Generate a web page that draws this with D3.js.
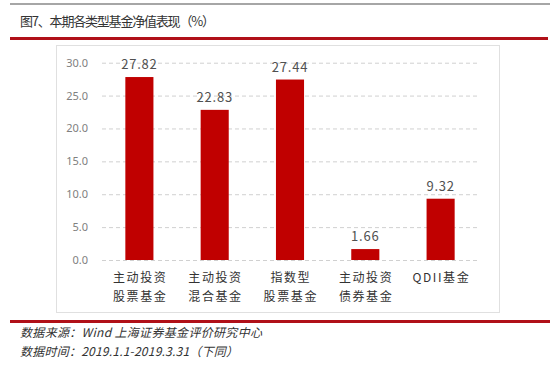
<!DOCTYPE html>
<html lang="zh">

<head>
    <meta charset="UTF-8">
    <script src="https://d3js.org/d3.v7.min.js"></script>
    <title>图7</title>
    <style>
        body { margin: 0; background: #fff; }
        svg { display: block; font-family: "Noto Sans CJK SC", sans-serif; }
    </style>
</head>

<body>
    <div id="chart"></div>

    <script>
        // categories (two lines each) and values
        const categories = [
            ["主动投资", "股票基金"],
            ["主动投资", "混合基金"],
            ["指数型", "股票基金"],
            ["主动投资", "债券基金"],
            ["QDII基金", ""]
        ];
        const values = [27.82, 22.83, 27.44, 1.66, 9.32];
        const valueLabels = ["27.82", "22.83", "27.44", "1.66", "9.32"];
        const yTicks = [0, 5, 10, 15, 20, 25, 30];

        const W = 550, H = 367;
        const svg = d3.select("#chart").append("svg")
            .attr("width", W).attr("height", H);

        // header lines and title
        svg.append("rect").attr("x", 10).attr("y", 3).attr("width", 540).attr("height", 2).attr("fill", "#a6a6a6");
        svg.append("text").attr("x", 20).attr("y", 26)
            .attr("font-size", 13).attr("fill", "#333")
            .attr("textLength", 195).attr("lengthAdjust", "spacing")
            .text("图7、本期各类型基金净值表现（%）");
        svg.append("rect").attr("x", 10).attr("y", 37).attr("width", 538).attr("height", 3).attr("fill", "#b01018");

        // chart frame
        svg.append("rect").attr("x", 56.5).attr("y", 45.5).attr("width", 443).attr("height", 267)
            .attr("fill", "#fff").attr("stroke", "#e0e0e0");

        const x = d3.scaleBand().domain(d3.range(values.length)).range([102, 478]).paddingInner(0.627).paddingOuter(0.31);
        const y = d3.scaleLinear().domain([0, 30]).range([260, 62.7]);

        // grid
        svg.append("g").selectAll("line").data(yTicks).join("line")
            .attr("x1", 102).attr("x2", 479)
            .attr("y1", d => y(d) + 0.5).attr("y2", d => y(d) + 0.5)
            .attr("stroke", "#d0d0d0").attr("stroke-dasharray", "4,3");

        // y axis labels
        const yAxis = d3.axisLeft(y).tickValues(yTicks).tickFormat(d3.format(".1f")).tickSize(0).tickPadding(0);
        const gy = svg.append("g").attr("transform", "translate(88,0)").call(yAxis);
        gy.select(".domain").remove();
        gy.selectAll("text").attr("font-size", 11).attr("fill", "#808080")
            .attr("font-family", "'Noto Sans', sans-serif");

        // bars
        svg.append("g").selectAll("rect").data(values).join("rect")
            .attr("x", (d, i) => x(i))
            .attr("y", d => y(d))
            .attr("width", x.bandwidth())
            .attr("height", d => y(0) - y(d))
            .attr("fill", "#c00000");

        // value labels
        svg.append("g").selectAll("text").data(values).join("text")
            .attr("x", (d, i) => x(i) + x.bandwidth() / 2)
            .attr("y", d => y(d) - 8)
            .attr("text-anchor", "middle")
            .attr("font-size", 13).attr("fill", "#505050").attr("letter-spacing", 0.8)
            .text((d, i) => valueLabels[i]);

        // x labels
        const xl = svg.append("g").selectAll("text").data(categories).join("text")
            .attr("text-anchor", "middle")
            .attr("font-size", 12).attr("fill", "#333").attr("letter-spacing", 1.6);
        xl.append("tspan").attr("x", (d, i) => x(i) + x.bandwidth() / 2 + 0.8).attr("y", 282).text(d => d[0]);
        xl.append("tspan").attr("x", (d, i) => x(i) + x.bandwidth() / 2 + 0.8).attr("y", 301).text(d => d[1]);

        // footer
        svg.append("rect").attr("x", 10).attr("y", 320).attr("width", 540).attr("height", 3).attr("fill", "#b01018");
        svg.append("text").attr("x", 20).attr("y", 337)
            .attr("font-size", 12).attr("font-style", "italic").attr("fill", "#333")
            .attr("textLength", 242).attr("lengthAdjust", "spacing")
            .text("数据来源：Wind 上海证券基金评价研究中心");
        svg.append("text").attr("x", 20).attr("y", 356)
            .attr("font-size", 12).attr("font-style", "italic").attr("fill", "#333")
            .attr("textLength", 218).attr("lengthAdjust", "spacing")
            .text("数据时间：2019.1.1-2019.3.31（下同）");
    </script>
</body>

</html>
